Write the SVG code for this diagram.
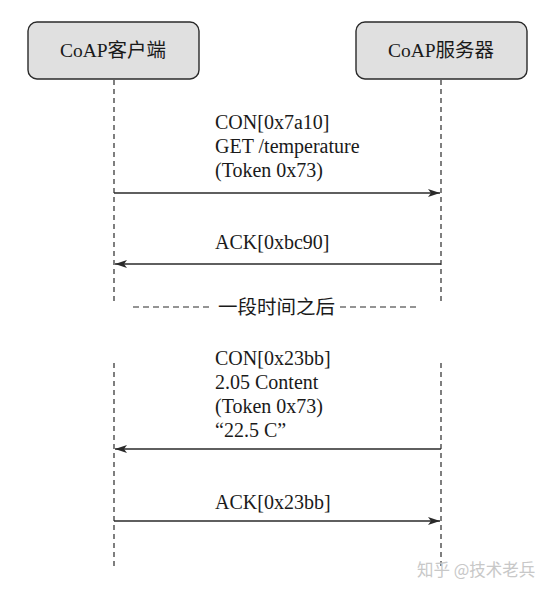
<svg xmlns="http://www.w3.org/2000/svg" width="551" height="593" viewBox="0 0 551 593">
<style>
.box{fill:#e0e0e0;stroke:#2a2a2a;stroke-width:1.4}
.life{stroke:#2a2a2a;stroke-width:1.2;stroke-dasharray:5 4;fill:none}
.sep{stroke:#2a2a2a;stroke-width:1.2;stroke-dasharray:6 4;fill:none}
.msg{stroke:#2a2a2a;stroke-width:1.3;fill:none}
text{font-family:"Liberation Serif","Noto Sans CJK SC",serif;fill:#1a1a1a;font-size:20px}
.lbl{font-size:19.5px}
.cjk{font-size:19.5px}
.wm{font-family:"Noto Sans CJK SC",sans-serif;fill:#c8c8c8;font-size:16.5px}
</style>
<defs>
<marker id="ah" viewBox="0 0 12 8" refX="12" refY="4" markerWidth="12" markerHeight="8" markerUnits="userSpaceOnUse" orient="auto">
<path d="M0,0 L12,4 L0,8 L3,4 Z" fill="#2a2a2a"/>
</marker>
</defs>
<rect width="551" height="593" fill="#ffffff"/>
<g id="client">
<rect class="box" x="28" y="22" width="171" height="57" rx="9"/>
<text class="lbl" x="113" y="57" text-anchor="middle">CoAP客户端</text>
</g>
<g id="server">
<rect class="box" x="356" y="22" width="171" height="57" rx="9"/>
<text class="lbl" x="441" y="57" text-anchor="middle">CoAP服务器</text>
</g>
<g id="connectors">
<line class="life" x1="114" y1="80" x2="114" y2="303"/>
<line class="life" x1="441" y1="80" x2="441" y2="303"/>
<line class="life" x1="114" y1="363" x2="114" y2="570"/>
<line class="life" x1="441" y1="363" x2="441" y2="570"/>
<line class="msg" x1="114" y1="193" x2="440" y2="193" marker-end="url(#ah)"/>
<line class="msg" x1="441" y1="264" x2="115" y2="264" marker-end="url(#ah)"/>
<line class="msg" x1="441" y1="449" x2="115" y2="449" marker-end="url(#ah)"/>
<line class="msg" x1="114" y1="521" x2="440" y2="521" marker-end="url(#ah)"/>
<line class="sep" x1="133" y1="307" x2="209" y2="307"/>
<line class="sep" x1="340" y1="307" x2="416" y2="307"/>
</g>
<g id="labels">
<text x="215" y="129">CON[0x7a10]</text>
<text x="215" y="153">GET /temperature</text>
<text x="215" y="177">(Token 0x73)</text>
<text x="215" y="249">ACK[0xbc90]</text>
<text class="cjk" x="218" y="314">一段时间之后</text>
<text x="215" y="365">CON[0x23bb]</text>
<text x="215" y="389">2.05 Content</text>
<text x="215" y="413">(Token 0x73)</text>
<text x="215" y="437">“22.5 C”</text>
<text x="215" y="509">ACK[0x23bb]</text>
<text class="wm" x="417" y="576">知乎 @技术老兵</text>
</g>
</svg>
